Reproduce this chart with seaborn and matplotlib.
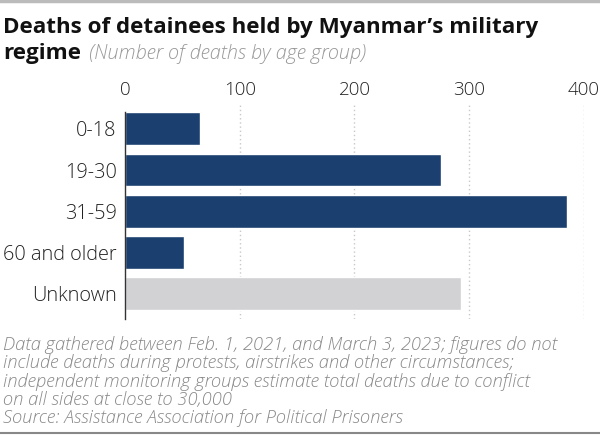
import matplotlib
matplotlib.use('Agg')
import matplotlib.pyplot as plt
import seaborn as sns

# data
groups = ['0-18', '19-30', '31-59', '60 and older', 'Unknown']
deaths = [65, 275, 385, 51, 293]
bar_colors = ['#1b406f', '#1b406f', '#1b406f', '#1b406f', '#d2d2d4']
x_ticks = [0, 100, 200, 300, 400]

title1 = 'Deaths of detainees held by Myanmar\u2019s military'
title2 = 'regime'
subtitle = '(Number of deaths by age group)'
note_lines = ['Data gathered between Feb. 1, 2021, and March 3, 2023; figures do not',
              'include deaths during protests, airstrikes and other circumstances;',
              'independent monitoring groups estimate total deaths due to conflict',
              'on all sides at close to 30,000',
              'Source: Assistance Association for Political Prisoners']

sns.set_style('white')
plt.rcParams['font.family'] = ['Open Sans', 'DejaVu Sans']

fig = plt.figure(figsize=(6, 4.36), dpi=100)
ax = fig.add_axes([0.2083, 0.2683, 0.765, 0.4909])

sns.barplot(x=deaths, y=groups, hue=groups, palette=bar_colors, legend=False,
            width=0.8, orient='h', ax=ax, saturation=1)

ax.set_xlim(0, 400)
ax.set_ylim(4.62, -0.58)
ax.set_xticks(x_ticks)
ax.xaxis.tick_top()
ax.tick_params(axis='x', length=0, pad=4, labelsize=13.5, labelcolor='#222222')
ax.tick_params(axis='y', length=0, pad=6, labelsize=14.3, labelcolor='#222222')
for lab in ax.get_xticklabels() + ax.get_yticklabels():
    lab.set_fontweight('light')
ax.set_xlabel('')
ax.set_ylabel('')
for s in ['top', 'right', 'bottom']:
    ax.spines[s].set_visible(False)
ax.spines['left'].set_color('#333333')
ax.spines['left'].set_linewidth(1)
ax.spines['left'].set_bounds(4.62, -0.42)
for t in x_ticks[1:]:
    ax.axvline(t, color='#c8c8c8', lw=1, ls=(0, (1, 2)), zorder=0)
ax.set_axisbelow(True)

# titles
fig.text(0.005, 1 - 33.5 / 436, title1, fontsize=16.1, fontweight='bold',
         color='#111111', va='baseline', ha='left')
t2 = fig.text(0.005, 1 - 58.5 / 436, title2, fontsize=16.1, fontweight='bold',
              color='#111111', va='baseline', ha='left')
fig.canvas.draw()
bb = t2.get_window_extent()
fig.text((bb.x1 + 8) / fig.bbox.width, 1 - 58.5 / 436, subtitle, fontsize=14.3,
         style='italic', fontweight='light', color='#999999', va='baseline', ha='left')

# footnote, one line at a time
for i, line in enumerate(note_lines):
    y = 350 + i * 18.3
    fig.text(0.005, 1 - y / 436, line, fontsize=13.2, style='italic', fontweight='light',
             color='#888888', va='baseline', ha='left')

# frame lines
fig.add_artist(plt.Line2D([0, 1], [1 - 1.5 / 436, 1 - 1.5 / 436], color='#bbbbbb', lw=2.5))
fig.add_artist(plt.Line2D([0, 1], [1 - 433 / 436, 1 - 433 / 436], color='#888888', lw=1.5))

fig.savefig('out.png', dpi=100)
